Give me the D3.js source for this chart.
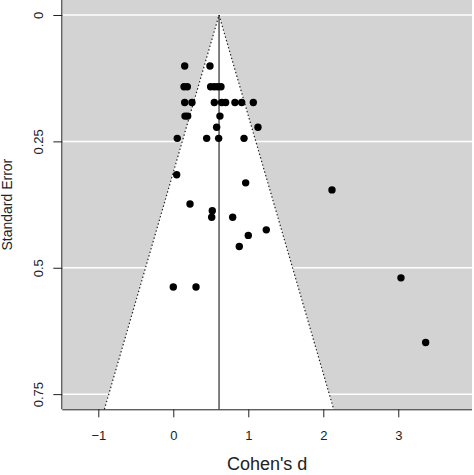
<!DOCTYPE html>
<html>
<head>
<meta charset="utf-8">
<script src="https://cdn.jsdelivr.net/npm/d3@7"></script>
<style>
  body { margin: 0; background: #fff; }
  svg { display: block; font-family: "Liberation Sans", Arial, sans-serif; }
</style>
</head>
<body>
<div id="chart"></div>
<script>
// study effect sizes (Cohen's d) and their standard errors
const effectSizes = [
  0.152, 0.489,
  0.143, 0.187, 0.498, 0.547, 0.592, 0.636,
  0.152, 0.249, 0.547, 0.645, 0.698, 0.822, 0.912, 1.067,
  0.156, 0.192, 0.622,
  0.578, 1.129,
  0.053, 0.445, 0.605, 0.943,
  0.045, 0.965, 2.116, 0.223, 0.52, 0.512, 0.792,
  1.24, 1.0, 0.88, 3.036, 0.0, 0.303, 3.365
];
const standardErrors = [
  0.101, 0.101,
  0.142, 0.142, 0.142, 0.142, 0.142, 0.142,
  0.173, 0.173, 0.173, 0.173, 0.173, 0.173, 0.173, 0.173,
  0.200, 0.200, 0.200,
  0.222, 0.222,
  0.244, 0.244, 0.244, 0.244,
  0.316, 0.332, 0.346, 0.374, 0.387, 0.400, 0.400,
  0.425, 0.436, 0.458, 0.520, 0.538, 0.538, 0.648
];
const pooledEstimate = [0.61];
const xTicks = [-1, 0, 1, 2, 3];
const yTicks = [0, 0.25, 0.5, 0.75];
const yTickLabels = ["0", "0.25", "0.5", "0.75"];

const width = 474, height = 475;
const pLeft = 62.3, pRight = 472, pTop = 0, pBottom = 409.3;

const x = d3.scaleLinear().domain([-1.48, 3.983]).range([pLeft, pRight]);
const y = d3.scaleLinear().domain([-0.0297, 0.78]).range([pTop, pBottom]);

const svg = d3.select("#chart")
  .append("svg")
  .attr("width", width)
  .attr("height", height);

// grey panel
svg.append("rect")
  .attr("x", pLeft)
  .attr("y", pTop)
  .attr("width", pRight - pLeft)
  .attr("height", pBottom - pTop)
  .attr("fill", "#d3d3d3");

// white grid lines
svg.selectAll(".grid")
  .data(yTicks)
  .enter()
  .append("line")
  .attr("x1", pLeft)
  .attr("x2", pRight)
  .attr("y1", (d) => y(d))
  .attr("y2", (d) => y(d))
  .attr("stroke", "#fff")
  .attr("stroke-width", 1.5);

// funnel (estimate +/- 1.96 SE down to the bottom of the panel)
const est = pooledEstimate[0];
const seMax = y.domain()[1];
const funnel = [
  [est - 1.96 * seMax, seMax],
  [est, 0],
  [est + 1.96 * seMax, seMax]
];
const funnelLine = d3.line().x((d) => x(d[0])).y((d) => y(d[1]));
svg.append("path")
  .attr("d", funnelLine(funnel) + "Z")
  .attr("fill", "#fff");
svg.append("path")
  .attr("d", funnelLine(funnel))
  .attr("fill", "none")
  .attr("stroke", "#222")
  .attr("stroke-width", 1.2)
  .attr("stroke-dasharray", "1.4,2.3");

// vertical line at the estimate
svg.append("line")
  .attr("x1", x(est))
  .attr("x2", x(est))
  .attr("y1", y(0))
  .attr("y2", pBottom)
  .attr("stroke", "#000")
  .attr("stroke-width", 1);

// studies
svg.selectAll(".pt")
  .data(effectSizes.map((d, i) => [d, standardErrors[i]]))
  .enter()
  .append("circle")
  .attr("cx", (d) => x(d[0]))
  .attr("cy", (d) => y(d[1]))
  .attr("r", 3.7)
  .attr("fill", "#000");

// axes
const xAxis = svg.append("g")
  .attr("transform", `translate(0,${pBottom})`)
  .call(d3.axisBottom(x).tickValues(xTicks).tickSize(8).tickSizeOuter(0)
    .tickFormat((d) => (d < 0 ? "\u2212" + Math.abs(d) : d)));
xAxis.select(".domain").attr("d", `M${pLeft},0.5H${pRight}`).attr("stroke", "#222");
xAxis.selectAll(".tick line").attr("stroke", "#222");
xAxis.selectAll(".tick text")
  .attr("y", 21)
  .attr("dy", "0.71em")
  .style("font-size", "13px")
  .attr("fill", "#222");

const yAxis = svg.append("g")
  .attr("transform", `translate(${pLeft},0)`)
  .call(d3.axisLeft(y).tickValues(yTicks).tickSize(9).tickSizeOuter(0)
    .tickFormat((d, i) => yTickLabels[i]));
yAxis.select(".domain").attr("d", `M-0.5,${pTop}V${pBottom}`).attr("stroke", "#222");
yAxis.selectAll(".tick line").attr("stroke", "#222");
yAxis.selectAll(".tick text")
  .attr("x", null)
  .attr("dy", null)
  .attr("transform", "translate(-19,0) rotate(-90)")
  .attr("text-anchor", "middle")
  .style("font-size", "13px")
  .attr("fill", "#222");

// axis titles
svg.append("text")
  .attr("x", (pLeft + pRight) / 2)
  .attr("y", 470)
  .attr("text-anchor", "middle")
  .style("font-size", "18px")
  .attr("fill", "#222")
  .text("Cohen's d");

svg.append("text")
  .attr("transform", `translate(12,${(pTop + pBottom) / 2}) rotate(-90)`)
  .attr("text-anchor", "middle")
  .style("font-size", "14px")
  .attr("fill", "#222")
  .text("Standard Error");
</script>
</body>
</html>
